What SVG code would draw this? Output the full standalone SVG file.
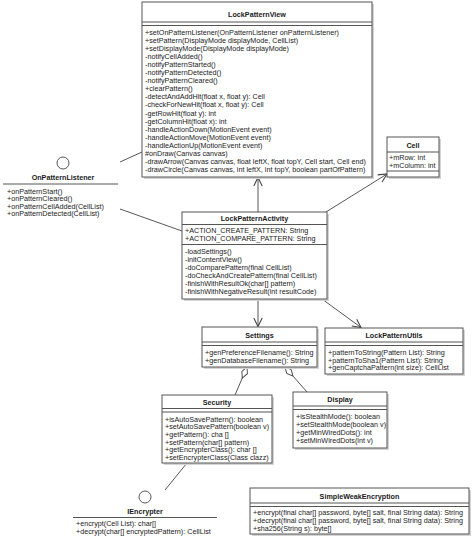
<svg xmlns="http://www.w3.org/2000/svg" width="474" height="544" viewBox="0 0 474 544">
<defs>
<style>
text{font-family:"Liberation Sans",Arial,sans-serif;font-size:7.2px;fill:#1a1a1a}
.t{font-weight:bold;text-anchor:middle}
.box{fill:#fff;stroke:#555;stroke-width:1}
.sh{fill:#d4d4d4}
.sep{stroke:#555;stroke-width:1}
.ln{stroke:#444;stroke-width:0.9;fill:none}
.ci{fill:#fff;stroke:#444;stroke-width:0.9}
</style>
<marker id="arr" markerUnits="userSpaceOnUse" markerWidth="12" markerHeight="12" viewBox="-8 -5 10 10" refX="0" refY="0" orient="auto">
<path d="M-7,-3.5 L0,0 L-7,3.5" fill="none" stroke="#444" stroke-width="0.9"/>
</marker>
<marker id="dia" markerUnits="userSpaceOnUse" markerWidth="16" markerHeight="10" viewBox="-1 -5 15 10" refX="0" refY="0" orient="auto">
<path d="M0,0 L6,-3 L12,0 L6,3 Z" fill="#fff" stroke="#444" stroke-width="0.9"/>
</marker>
</defs>
<rect width="474" height="544" fill="#fff"/>

<g id="connectors">
<line class="ln" x1="142" y1="152" x2="120" y2="162"/>
<line class="ln" x1="120" y1="209" x2="182" y2="231"/>
<line class="ln" x1="258" y1="212" x2="258" y2="177.5" marker-end="url(#arr)"/>
<line class="ln" x1="326" y1="212" x2="387" y2="174" marker-end="url(#arr)"/>
<line class="ln" x1="258" y1="299" x2="258" y2="326.5" marker-end="url(#arr)"/>
<line class="ln" x1="322" y1="299" x2="361" y2="327.5" marker-end="url(#arr)"/>
<line class="ln" x1="247" y1="367" x2="235" y2="395" marker-start="url(#dia)"/>
<line class="ln" x1="285" y1="367" x2="307" y2="392" marker-start="url(#dia)"/>
<line class="ln" x1="187" y1="463" x2="165" y2="490"/>
</g>

<g id="LockPatternView">
<rect class="sh" x="144" y="4" width="230" height="175"/>
<rect class="box" x="142" y="2" width="230" height="175"/>
<text class="t" x="257" y="16.5">LockPatternView</text>
<line class="sep" x1="142" y1="22" x2="372" y2="22"/>
<line class="sep" x1="142" y1="25.5" x2="372" y2="25.5"/>
<text x="145" y="34.5">+setOnPatternListener(OnPatternListener onPatternListener)</text>
<text x="145" y="42.6">+setPattern(DisplayMode displayMode, CellList)</text>
<text x="145" y="50.7">+setDisplayMode(DisplayMode displayMode)</text>
<text x="145" y="58.8">-notifyCellAdded()</text>
<text x="145" y="66.9">-notifyPatternStarted()</text>
<text x="145" y="75">-notifyPatternDetected()</text>
<text x="145" y="83.1">-notifyPatternCleared()</text>
<text x="145" y="91.2">+clearPattern()</text>
<text x="145" y="99.3">-detectAndAddHit(float x, float y): Cell</text>
<text x="145" y="107.4">-checkForNewHit(float x, float y): Cell</text>
<text x="145" y="115.5">-getRowHit(float y): int</text>
<text x="145" y="123.6">-getColumnHit(float x): int</text>
<text x="145" y="131.7">-handleActionDown(MotionEvent event)</text>
<text x="145" y="139.8">-handleActionMove(MotionEvent event)</text>
<text x="145" y="147.9">-handleActionUp(MotionEvent event)</text>
<text x="145" y="156">#onDraw(Canvas canvas)</text>
<text x="145" y="164.1">-drawArrow(Canvas canvas, float leftX, float topY, Cell start, Cell end)</text>
<text x="145" y="172.2">-drawCircle(Canvas canvas, int leftX, int topY, boolean partOfPattern)</text>
</g>

<g id="OnPatternListener">
<circle class="ci" cx="63" cy="163" r="6"/>
<text class="t" x="63" y="179.5">OnPatternListener</text>
<line class="sep" x1="3" y1="184" x2="118" y2="184"/>
<text x="7" y="193.5">+onPatternStart()</text>
<text x="7" y="201.1">+onPatternCleared()</text>
<text x="7" y="208.7">+onPatternCellAdded(CellList)</text>
<text x="7" y="216.3">+onPatternDetected(CellList)</text>
</g>

<g id="LockPatternActivity">
<rect class="sh" x="184" y="214" width="145" height="87"/>
<rect class="box" x="182" y="212" width="145" height="87"/>
<text class="t" x="254.5" y="220.5">LockPatternActivity</text>
<line class="sep" x1="182" y1="224.5" x2="327" y2="224.5"/>
<text x="185" y="232.5">+ACTION_CREATE_PATTERN: String</text>
<text x="185" y="240.7">+ACTION_COMPARE_PATTERN: String</text>
<line class="sep" x1="182" y1="244.5" x2="327" y2="244.5"/>
<text x="185" y="254">-loadSettings()</text>
<text x="185" y="261.9">-initContentView()</text>
<text x="185" y="269.8">-doComparePattern(final CellList)</text>
<text x="185" y="277.7">-doCheckAndCreatePattern(final CellList)</text>
<text x="185" y="285.6">-finishWithResultOk(char[] pattern)</text>
<text x="185" y="293.5">-finishWithNegativeResult(int resultCode)</text>
</g>

<g id="Cell">
<rect class="sh" x="389" y="139" width="52" height="40"/>
<rect class="box" x="387" y="137" width="52" height="40"/>
<text class="t" x="413" y="147.5">Cell</text>
<line class="sep" x1="387" y1="152" x2="439" y2="152"/>
<text x="389" y="159.5">+mRow: int</text>
<text x="389" y="167.5">+mColumn: int</text>
<line class="sep" x1="387" y1="171" x2="439" y2="171"/>
</g>

<g id="Settings">
<rect class="sh" x="204" y="329" width="115" height="40"/>
<rect class="box" x="202" y="327" width="115" height="40"/>
<text class="t" x="259.5" y="337.5">Settings</text>
<line class="sep" x1="202" y1="342" x2="317" y2="342"/>
<line class="sep" x1="202" y1="345.5" x2="317" y2="345.5"/>
<text x="205" y="355.2">+genPreferenceFilename(): String</text>
<text x="205" y="363">+genDatabaseFilename(): String</text>
</g>

<g id="LockPatternUtils">
<rect class="sh" x="327" y="330" width="138" height="46"/>
<rect class="box" x="325" y="328" width="138" height="46"/>
<text class="t" x="394" y="337.5">LockPatternUtils</text>
<line class="sep" x1="325" y1="342" x2="463" y2="342"/>
<line class="sep" x1="325" y1="345.5" x2="463" y2="345.5"/>
<text x="328" y="354.8">+patternToString(Pattern List): String</text>
<text x="328" y="362.6">+patternToSha1(Pattern List): String</text>
<text x="328" y="370.4">+genCaptchaPattern(int size): CellList</text>
</g>

<g id="Security">
<rect class="sh" x="164" y="397" width="110" height="68"/>
<rect class="box" x="162" y="395" width="110" height="68"/>
<text class="t" x="217" y="404.5">Security</text>
<line class="sep" x1="162" y1="408.5" x2="272" y2="408.5"/>
<line class="sep" x1="162" y1="412" x2="272" y2="412"/>
<text x="165" y="421.8">+isAutoSavePattern(): boolean</text>
<text x="165" y="429.4">+setAutoSavePattern(boolean v)</text>
<text x="165" y="437">+getPattern(): cha []</text>
<text x="165" y="444.6">+setPattern(char[] pattern)</text>
<text x="165" y="452.2">+getEncrypterClass(): char []</text>
<text x="165" y="459.8">+setEncrypterClass(Class clazz)</text>
</g>

<g id="Display">
<rect class="sh" x="295" y="394" width="94" height="56"/>
<rect class="box" x="293" y="392" width="94" height="56"/>
<text class="t" x="340" y="401.5">Display</text>
<line class="sep" x1="293" y1="406" x2="387" y2="406"/>
<line class="sep" x1="293" y1="409.5" x2="387" y2="409.5"/>
<text x="296" y="419">+isStealthMode(): boolean</text>
<text x="296" y="427">+setStealthMode(boolean v)</text>
<text x="296" y="435">+getMinWiredDots(): int</text>
<text x="296" y="443">+setMinWiredDots(int v)</text>
</g>

<g id="IEncrypter">
<circle class="ci" cx="145" cy="497" r="6"/>
<text class="t" x="145" y="514">IEncrypter</text>
<line class="sep" x1="73" y1="517.5" x2="217" y2="517.5"/>
<text x="76" y="526">+encrypt(Cell List): char[]</text>
<text x="76" y="533.8">+decrypt(char[] encryptedPattern): CellList</text>
</g>

<g id="SimpleWeakEncryption">
<rect class="sh" x="252" y="490" width="219" height="46"/>
<rect class="box" x="250" y="488" width="219" height="46"/>
<text class="t" x="359.5" y="498.5">SimpleWeakEncryption</text>
<line class="sep" x1="250" y1="503" x2="469" y2="503"/>
<line class="sep" x1="250" y1="506.5" x2="469" y2="506.5"/>
<text x="253" y="515.4">+encrypt(final char[] password, byte[] salt, final String data): String</text>
<text x="253" y="523.2">+decrypt(final char[] password, byte[] salt, final String data): String</text>
<text x="253" y="531">+sha256(String s): byte[]</text>
</g>
</svg>
